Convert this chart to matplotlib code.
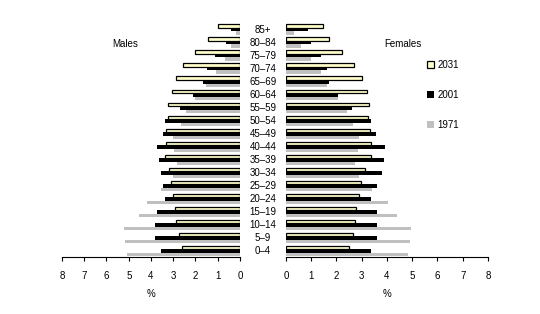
import numpy as np
import matplotlib.pyplot as plt

plt.rcParams['font.family'] = ['Liberation Sans', 'DejaVu Sans']

ages = ['0\u20134', '5\u20139', '10\u201314', '15\u201319', '20\u201324', '25\u201329',
        '30\u201334', '35\u201339', '40\u201344', '45\u201349', '50\u201354', '55\u201359',
        '60\u201364', '65\u201369', '70\u201374', '75\u201379', '80\u201384', '85+']

# % of population, listed from 0-4 up to 85+
males_2031 = [2.61, 2.75, 2.88, 2.93, 3.00, 3.11, 3.18, 3.38, 3.33, 3.33,
              3.23, 3.23, 3.05, 2.88, 2.55, 2.03, 1.43, 0.98]
males_2001 = [3.53, 3.80, 3.80, 3.75, 3.38, 3.48, 3.56, 3.65, 3.71, 3.45,
              3.38, 2.70, 2.10, 1.65, 1.50, 1.13, 0.65, 0.40]
males_1971 = [5.06, 5.15, 5.23, 4.55, 4.16, 3.53, 3.03, 2.81, 2.97, 3.03,
              2.66, 2.43, 2.03, 1.53, 1.08, 0.68, 0.40, 0.18]

females_2031 = [2.51, 2.67, 2.75, 2.79, 2.90, 2.98, 3.14, 3.35, 3.35, 3.33,
                3.23, 3.30, 3.19, 3.00, 2.71, 2.23, 1.72, 1.48]
females_2001 = [3.37, 3.59, 3.59, 3.59, 3.35, 3.59, 3.79, 3.87, 3.91, 3.55,
                3.35, 2.60, 2.05, 1.69, 1.61, 1.37, 0.98, 0.86]
females_1971 = [4.82, 4.91, 4.95, 4.38, 4.03, 3.39, 2.88, 2.72, 2.84, 2.89,
                2.64, 2.40, 2.05, 1.61, 1.37, 0.98, 0.58, 0.33]

years = ['2031', '2001', '1971']
colors = ['#FFFFCC', '#000000', '#C0C0C0']

fig = plt.figure(figsize=(5.4, 3.14), dpi=100)
ax_m = fig.add_axes([0.1148, 0.1815, 0.3296, 0.7468])
ax_f = fig.add_axes([0.5296, 0.1815, 0.374, 0.7468])

y = np.arange(len(ages))
h = 0.27
offsets = [h, 0, -h]

for ax, series in [(ax_m, [males_2031, males_2001, males_1971]),
                   (ax_f, [females_2031, females_2001, females_1971])]:
    for vals, off, col, yr in zip(series, offsets, colors, years):
        edge = 'black' if col == '#FFFFCC' else 'none'
        ax.barh(y + off, vals, height=h, color=col, edgecolor=edge,
                linewidth=0.9, label=yr)
    ax.set_xlim(0, 8)
    ax.set_ylim(-0.46, 17.55)
    ax.set_xticks(range(9))
    ax.set_yticks([])
    for s in ['top', 'left', 'right']:
        ax.spines[s].set_visible(False)
    ax.spines['bottom'].set_linewidth(0.8)
    ax.tick_params(axis='x', direction='out', length=3, width=0.8,
                   labelsize=7, pad=7)
    ax.set_xlabel('%', fontsize=7, labelpad=6)

ax_m.invert_xaxis()

# age labels in the gap between the two halves
for i, a in enumerate(ages):
    fig.text(263 / 540, ax_m.transData.transform((0, i))[1] / fig.bbox.height,
             a, ha='center', va='center', fontsize=7)

fig.text(112 / 540, 1 - 44 / 314, 'Males', ha='left', va='center', fontsize=7)
fig.text(384 / 540, 1 - 44 / 314, 'Females', ha='left', va='center', fontsize=7)

handles, labels = ax_f.get_legend_handles_labels()
fig.legend(handles, labels, loc='upper left', bbox_to_anchor=(418 / 540, 1 - 51 / 314),
           frameon=False, fontsize=7, handlelength=0.7, handleheight=0.7,
           handletextpad=0.4, labelspacing=2.05)

fig.savefig('out.png', dpi=100)
